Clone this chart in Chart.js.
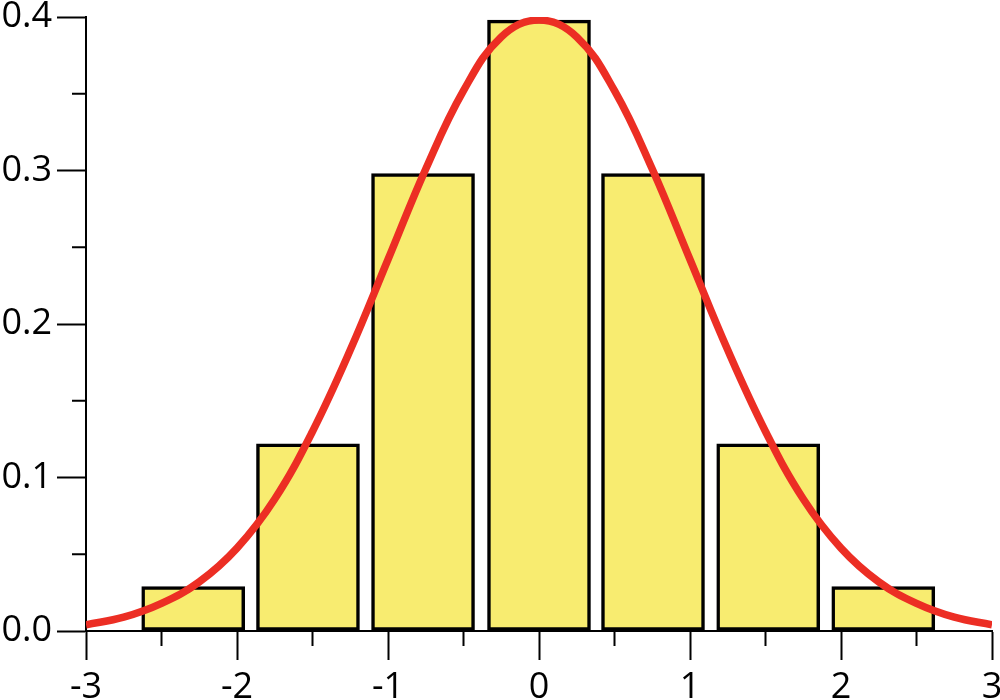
<!DOCTYPE html>
<html>
<head>
<meta charset="utf-8">
<script src="https://cdn.jsdelivr.net/npm/chart.js@4"></script>
<style>
    html, body { margin: 0; padding: 0; background: #fff; }
    #wrap { width: 1000px; height: 700px; }
</style>
</head>
<body>
<div id="wrap"><canvas id="chart"></canvas></div>
<script>
// histogram bars (bin centres and heights)
const barX = [-2.29, -1.53, -0.768, 0, 0.755, 1.518, 2.28];
const barH = [0.029, 0.122, 0.298, 0.398, 0.298, 0.122, 0.029];

// red density curve, every 0.25
const curveX = [-3, -2.75, -2.5, -2.25, -2, -1.75, -1.5, -1.25, -1, -0.75, -0.5, -0.25, 0,
    0.25, 0.5, 0.75, 1, 1.25, 1.5, 1.75, 2, 2.25, 2.5, 2.75, 3];
const curveY = [0.004, 0.009, 0.018, 0.032, 0.054, 0.086, 0.130, 0.183, 0.242, 0.301, 0.352, 0.387, 0.398,
    0.387, 0.352, 0.301, 0.242, 0.183, 0.130, 0.086, 0.054, 0.032, 0.018, 0.009, 0.004];

// axis ticks
const xMajor = [-3, -2, -1, 0, 1, 2, 3];
const xMinor = [-2.5, -1.5, -0.5, 0.5, 1.5, 2.5];
const yMajor = [0, 0.1, 0.2, 0.3, 0.4];
const yMinor = [0.05, 0.15, 0.25, 0.35];

const tickFont = { family: '"Open Sans", "Noto Sans", sans-serif', size: 36 };

const minorTicks = {
    id: 'minorTicks',
    afterDraw(chart) {
        const ctx = chart.ctx;
        const x = chart.scales.x;
        const y = chart.scales.y;
        ctx.save();
        ctx.strokeStyle = '#000';
        ctx.lineWidth = 2;
        ctx.beginPath();
        xMinor.forEach((v) => {
            const px = x.getPixelForValue(v);
            ctx.moveTo(px, y.bottom);
            ctx.lineTo(px, y.bottom + 15);
        });
        yMinor.forEach((v) => {
            const py = y.getPixelForValue(v);
            ctx.moveTo(x.left, py);
            ctx.lineTo(x.left - 14, py);
        });
        ctx.stroke();
        ctx.restore();
    },
};

new Chart(document.getElementById('chart').getContext('2d'), {
    type: 'bar',
    data: {
        datasets: [
            {
                type: 'line',
                data: curveX.map((v, i) => ({ x: v, y: curveY[i] })),
                borderColor: '#EC2E24',
                borderWidth: 7.5,
                pointRadius: 0,
                tension: 0.4,
                fill: false,
            },
            {
                type: 'bar',
                data: barX.map((v, i) => ({ x: v, y: barH[i] })),
                backgroundColor: '#F8EC70',
                borderColor: '#000',
                borderWidth: 3.5,
                borderSkipped: false,
                barThickness: 103,
            },
        ],
    },
    options: {
        responsive: true,
        maintainAspectRatio: false,
        animation: false,
        layout: {
            padding: { top: 17, right: 8, left: 0, bottom: 0 },
        },
        plugins: {
            legend: { display: false },
            tooltip: { enabled: false },
        },
        scales: {
            x: {
                type: 'linear',
                min: -3,
                max: 3,
                offset: false,
                afterBuildTicks: (scale) => {
                    scale.ticks = xMajor.map((v) => ({ value: v }));
                },
                ticks: {
                    color: '#000',
                    font: tickFont,
                    padding: 6,
                    maxRotation: 0,
                    callback: (v) => String(v),
                },
                grid: {
                    drawOnChartArea: false,
                    offset: false,
                    tickLength: 29,
                    tickWidth: 2,
                    tickColor: '#000',
                },
                border: { color: '#000', width: 2 },
                afterFit: (scale) => {
                    scale.height = 69;
                    scale.paddingLeft = 0;
                    scale.paddingRight = 0;
                },
            },
            y: {
                min: 0,
                max: 0.4,
                afterBuildTicks: (scale) => {
                    scale.ticks = yMajor.map((v) => ({ value: v }));
                },
                ticks: {
                    color: '#000',
                    font: tickFont,
                    padding: 5,
                    callback: (v) => v.toFixed(1),
                },
                grid: {
                    drawOnChartArea: false,
                    tickLength: 29,
                    tickWidth: 2,
                    tickColor: '#000',
                },
                border: { color: '#000', width: 2 },
                afterFit: (scale) => {
                    scale.width = 86;
                    scale.paddingTop = 0;
                    scale.paddingBottom = 0;
                },
            },
        },
    },
    plugins: [minorTicks],
});
</script>
</body>
</html>
